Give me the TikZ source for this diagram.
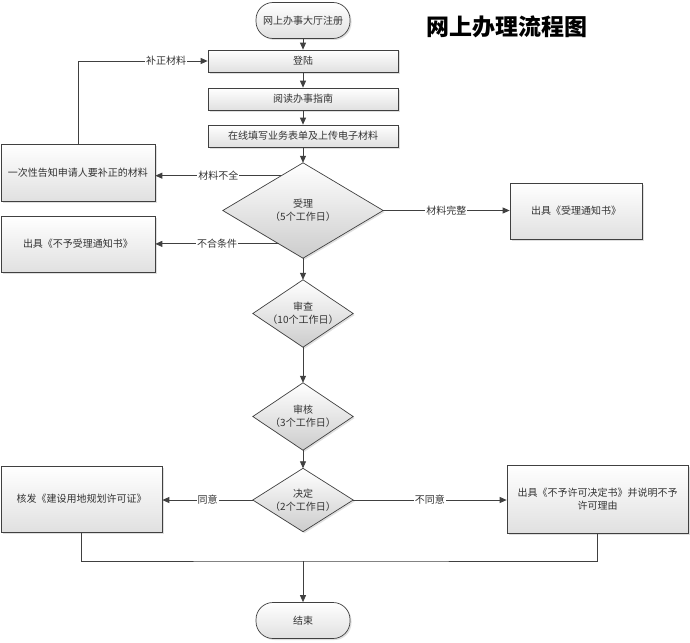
\documentclass[tikz,border=0pt]{standalone}
\usepackage{fontspec}
\setmainfont{Noto Sans CJK SC}
\usetikzlibrary{shapes.geometric,arrows.meta,shadows,calc}
\begin{document}
\begin{tikzpicture}[x=1pt,y=-1pt,
  base/.style={draw=black!75, line width=0.7pt, top color=white, bottom color=black!12,
    font=\fontsize{10}{13}\selectfont, text=black!80,
    drop shadow={shadow xshift=1.5pt,shadow yshift=-1.5pt,opacity=0.25}},
  box/.style={base, rectangle, inner sep=2pt, align=center},
  term/.style={base, rectangle, rounded corners=17pt, minimum width=94pt, minimum height=36pt},
  dec/.style={rectangle, inner sep=0pt, align=center, font=\fontsize{10}{13}\selectfont, text=black!80},
  decshape/.style={draw=black!75, line width=0.7pt, top color=white, bottom color=black!20,
    drop shadow={shadow xshift=1.5pt,shadow yshift=-1.5pt,opacity=0.25}},
  arr/.style={draw=black!75, line width=0.8pt, -{Triangle[length=7pt,width=6pt]}},
  ln/.style={draw=black!75, line width=0.8pt},
  lab/.style={fill=white, inner sep=1pt, font=\fontsize{10}{12}\selectfont, text=black!80}]
\useasboundingbox (0,0) rectangle (690,642);

% diamond nodes (text holders; the diamond outline is drawn from their anchors)
\node[dec, minimum width=160pt, minimum height=95pt] (accept) at (303,210.5) {};
\node[dec, minimum width=100pt, minimum height=67pt] (review) at (303,313.5) {};
\node[dec, minimum width=100pt, minimum height=67pt] (check) at (303,416.5) {};
\node[dec, minimum width=100pt, minimum height=63pt] (decide) at (303,500) {};
\foreach \d in {accept,review,check,decide}
  \path[decshape] (\d.north) -- (\d.east) -- (\d.south) -- (\d.west) -- cycle;
\node[dec] at (accept) {受理\\（5个工作日）};
\node[dec] at (review) {审查\\（10个工作日）};
\node[dec] at (check) {审核\\（3个工作日）};
\node[dec] at (decide) {决定\\（2个工作日）};

\node[term] (start) at (303,20.5) {网上办事大厅注册};
\node[box, minimum width=190pt, minimum height=22pt] (login) at (303,61) {登陆};
\node[box, minimum width=190pt, minimum height=22pt] (guide) at (303,99) {阅读办事指南};
\node[box, minimum width=190pt, minimum height=22pt] (fill) at (303,136) {在线填写业务表单及上传电子材料};
\node[box, minimum width=154pt, minimum height=57pt] (fix) at (78,172.5) {一次性告知申请人要补正的材料};
\node[box, minimum width=154pt, minimum height=56pt] (reject) at (78,244) {出具《不予受理通知书》};
\node[box, minimum width=132pt, minimum height=56pt] (notice) at (576,211) {出具《受理通知书》};
\node[box, minimum width=161pt, minimum height=66pt] (permit) at (81.5,499) {核发《建设用地规划许可证》};
\node[box, minimum width=181pt, minimum height=68pt] (deny) at (597.5,499) {出具《不予许可决定书》并说明不予\\许可理由};
\node[term] (finish) at (303,620.5) {结束};

\node (title) at (507,27) {\fontsize{23}{26}\selectfont\bfseries 网上办理流程图};

\draw[arr] (start) -- (login);
\draw[arr] (login) -- (guide);
\draw[arr] (guide) -- (fill);
\draw[arr] (fill) -- (accept.north);

\coordinate (a1) at ($(accept.north)!0.27!(accept.west)$);
\coordinate (a2) at ($(accept.south)!0.3!(accept.west)$);
\draw[arr] (a1) -- node[lab]{材料不全} (a1 -| fix.east);
\draw[arr] (a2) -- node[lab]{不合条件} (a2 -| reject.east);
\draw[arr] (accept.east) -- node[lab]{材料完整} (accept.east -| notice.west);
\draw[arr] (fix.north) |- node[lab, pos=0.84]{补正材料} (login.west);

\draw[arr] (accept.south) -- (review.north);
\draw[arr] (review.south) -- (check.north);
\draw[arr] (check.south) -- (decide.north);
\draw[arr] (decide.west) -- node[lab]{同意} (decide.west -| permit.east);
\draw[arr] (decide.east) -- node[lab]{不同意} (decide.east -| deny.west);

\coordinate (m) at (303,561);
\draw[ln] (permit.south) |- (m) -| (deny.south);
\draw[arr] (m) -- (finish);
\end{tikzpicture}
\end{document}
